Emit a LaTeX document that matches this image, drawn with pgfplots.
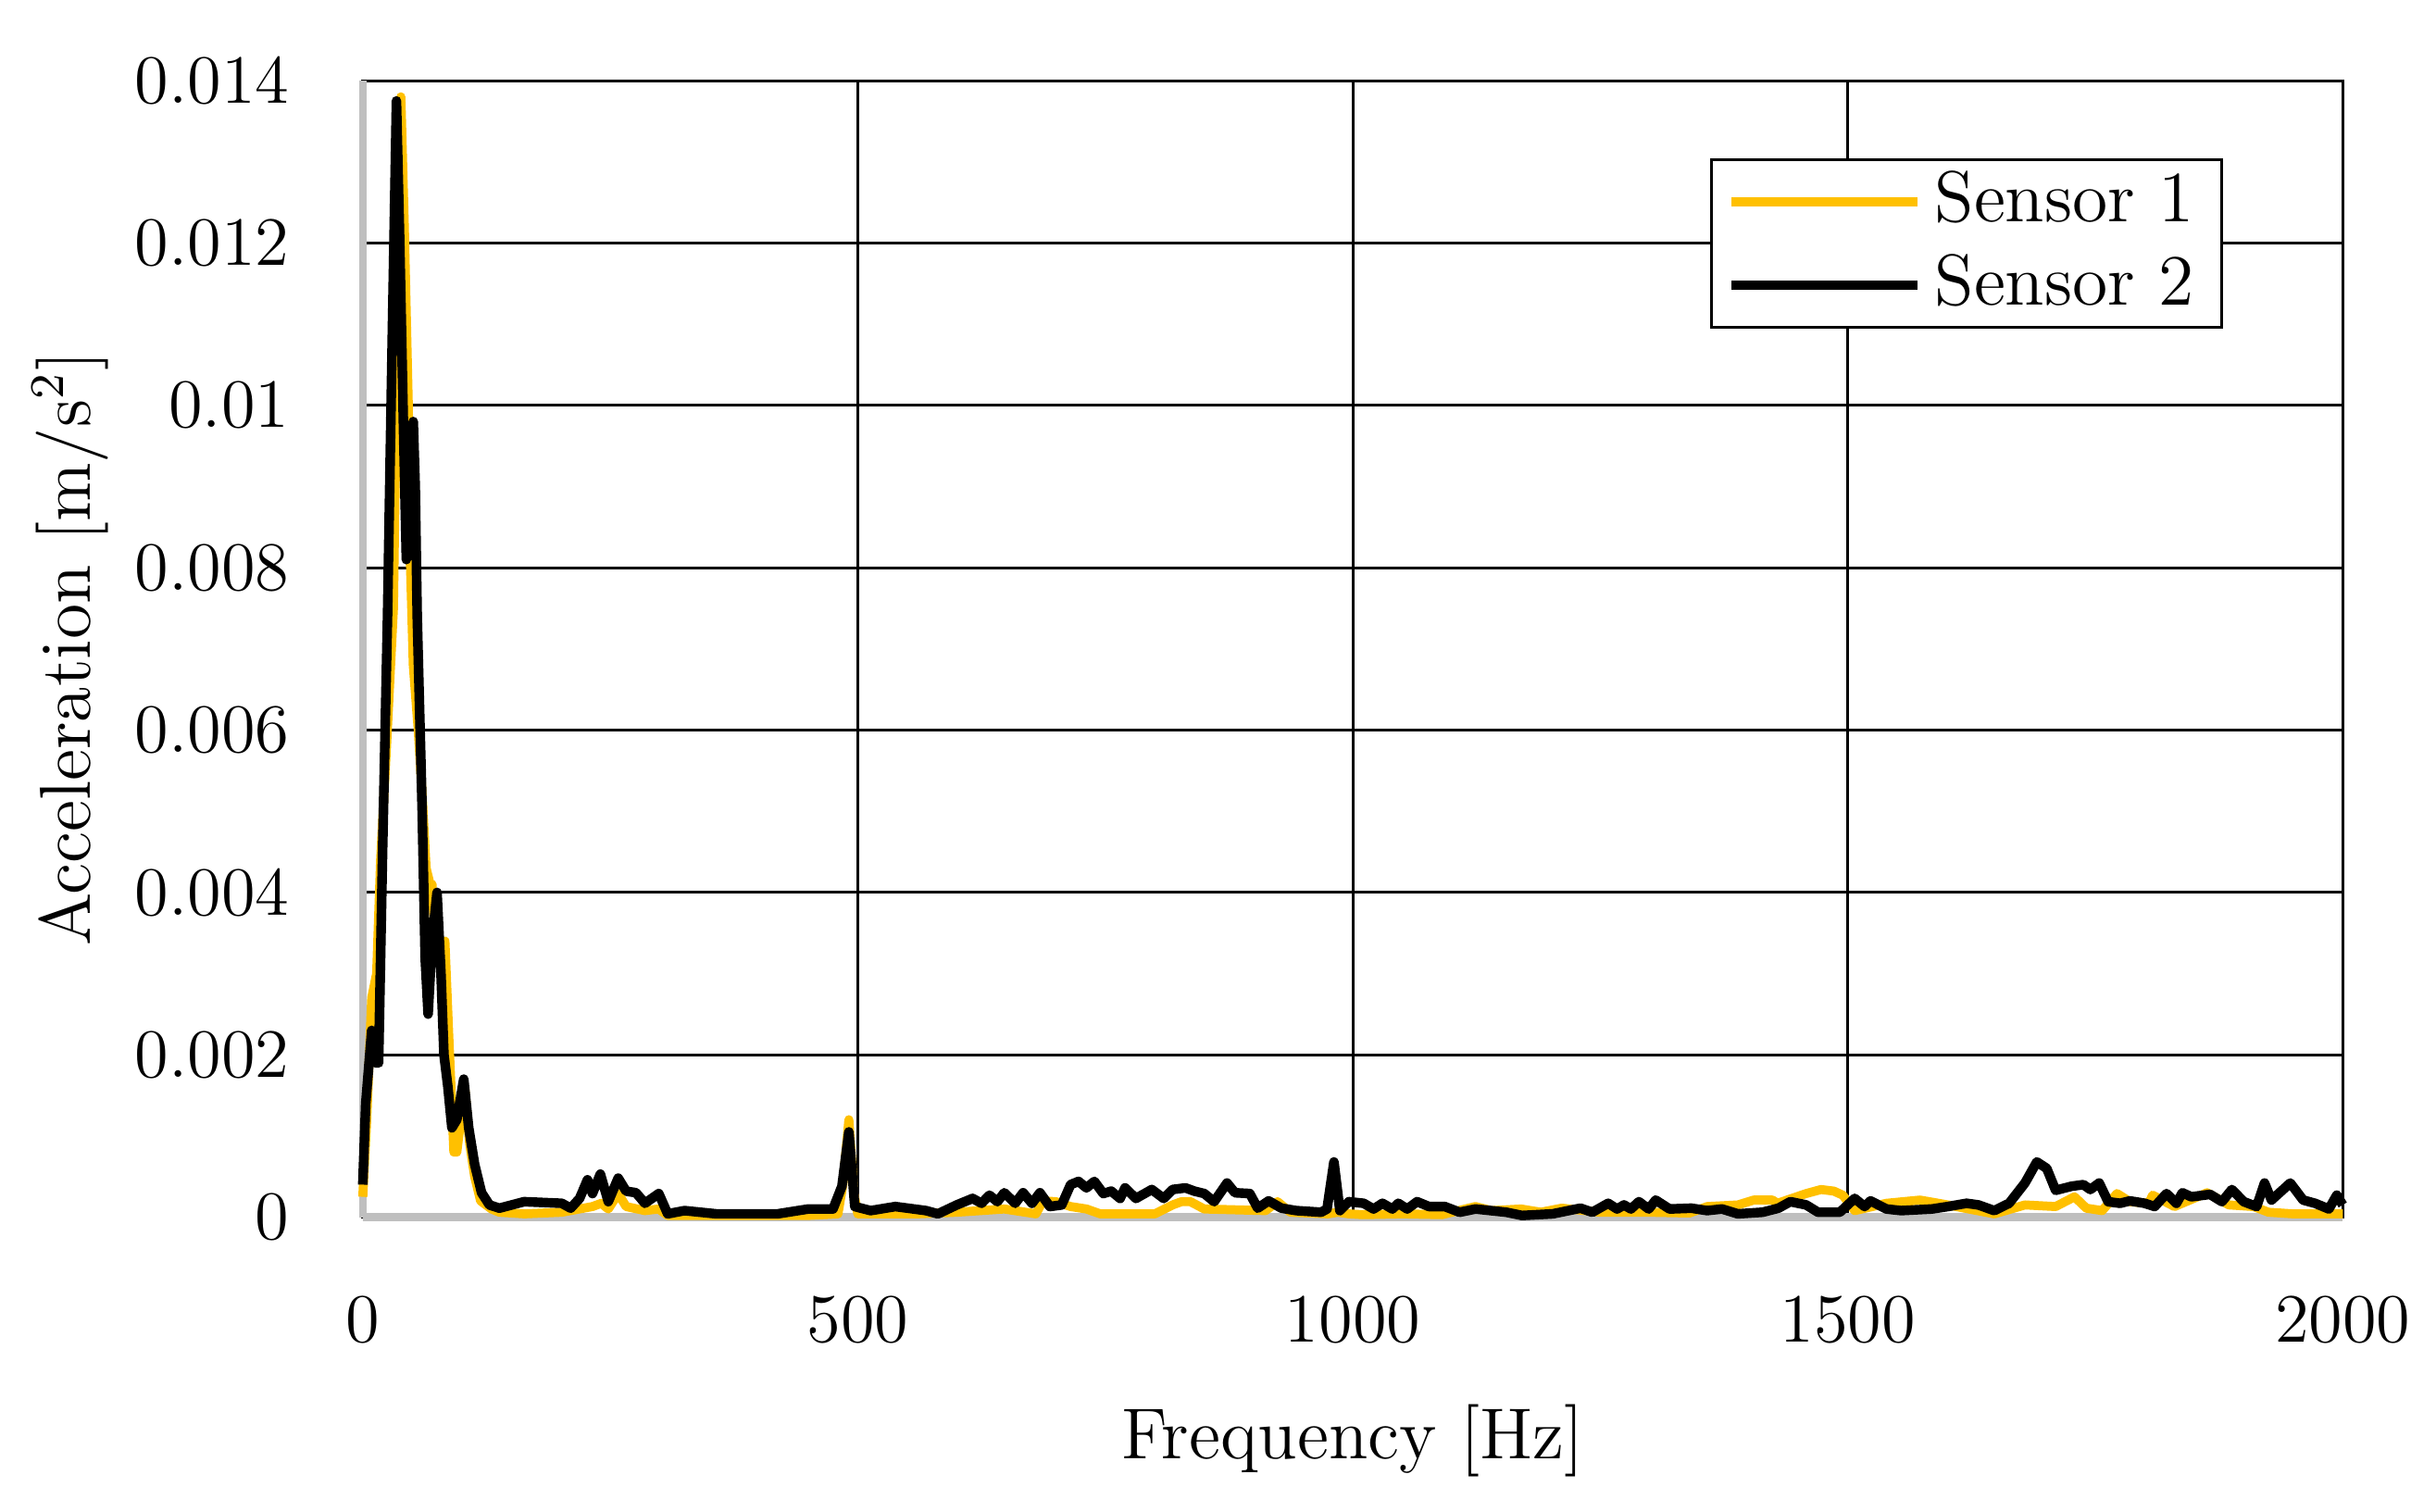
\documentclass[border=0pt]{standalone}
\usepackage{pgfplots}
\pgfplotsset{compat=1.18}
\definecolor{sgold}{HTML}{FFC000}
\definecolor{axgray}{HTML}{BFBFBF}
\begin{document}
\fontsize{12}{14}\selectfont
\begin{tikzpicture}
\begin{axis}[
  at={(0,0)}, anchor=south west,
  scale only axis, width=329.1pt, height=188.9pt,
  xmin=0, xmax=2000, ymin=0, ymax=0.014,
  xtick={0,500,1000,1500,2000},
  xticklabels={0,500,1000,1500,2000},
  ytick={0,0.002,0.004,0.006,0.008,0.01,0.012,0.014},
  yticklabels={0,0.002,0.004,0.006,0.008,0.01,0.012,0.014},
  scaled y ticks=false,
  grid=major,
  major grid style={black, line width=0.45pt},
  major tick length=0pt,
  axis line style={black, line width=0.45pt},
  clip=false,
  ticklabel style={font=\fontsize{11.5}{13}\selectfont},
  yticklabel style={xshift=-8pt},
  xticklabel style={yshift=-9pt},
  xlabel={Frequency [Hz]},
  ylabel={Acceleration [m/s$^2$]},
  xlabel style={at={(axis description cs:0.5,-0.1964)}, anchor=center, font=\fontsize{12}{14}\selectfont},
  ylabel style={at={(axis description cs:-0.1477,0.5)}, anchor=center, font=\fontsize{12}{14}\selectfont},
  legend cell align=left,
  legend image code/.code={\draw[#1] (0pt,0pt) -- (31pt,0pt);},
  legend style={at={(0.9395,0.932)}, anchor=north east, draw=black, line width=0.5pt,
    font=\fontsize{12}{14}\selectfont, inner xsep=2.5pt, inner ysep=0.6pt, row sep=1.0pt,
    nodes={inner xsep=2pt, inner ysep=1.3pt}},
]
\draw[axgray, line width=1.3pt] (rel axis cs:0,0) -- (rel axis cs:1,0);
\draw[axgray, line width=1.3pt] (rel axis cs:0,0) -- (rel axis cs:0,1);
\addplot[sgold, line width=1.5pt, line join=round] coordinates {
(0,0.00025) (4,0.0012) (9,0.0027) (14,0.0030) (18,0.0044) (24,0.0058) (31,0.0075)
(35,0.0110) (38.5,0.0138) (42,0.0122) (46,0.0100) (48,0.0081) (51,0.0068) (56,0.0060)
(60,0.0052) (64,0.0043) (68,0.0041) (70,0.0041) (73,0.0034) (78,0.0033) (83,0.0034)
(87,0.0022) (92,0.0008) (95,0.0008) (100,0.0013) (103,0.0016) (108,0.0009) (113,0.0005)
(119,0.0002) (130,0.0001) (138,0.00006) (163,0.00004) (201,0.00006) (232,0.00013)
(241,0.00017) (248,0.0001) (258,0.00029) (266,0.00013) (285,0.00008) (299,0.0001)
(308,0.00002) (360,0.00002) (450,0.00002) (480,0.00004) (485,0.0004) (491,0.0012)
(496,0.0003) (500,0.00004) (560,0.00004) (600,0.00006) (648,0.0001) (680,0.00004)
(687,0.0002) (700,0.00019) (715,0.00013) (731,0.0001) (745,0.00004) (800,0.00004)
(818,0.00015) (827,0.00019) (836,0.00019) (850,0.0001) (881,0.00009) (912,0.00008)
(924,0.00019) (937,0.00006) (975,0.00004) (985,0.00006) (996,0.00004) (1010,0.00003)
(1050,0.00004) (1090,0.00003) (1124,0.00013) (1140,0.00008) (1170,0.0001) (1190,0.00006)
(1211,0.00011) (1250,0.00006) (1300,0.00006) (1340,0.00005) (1358,0.00013) (1389,0.00015)
(1405,0.00021) (1424,0.00021) (1429,0.00017) (1458,0.00029) (1473,0.00034) (1486,0.00032)
(1495,0.00027) (1507,0.00008) (1539,0.00017) (1573,0.00021) (1601,0.00015) (1648,0.00004)
(1679,0.00015) (1710,0.00013) (1729,0.00025) (1741,0.00011) (1757,0.00008) (1772,0.00029)
(1785,0.00019) (1804,0.00017) (1808,0.00027) (1830,0.00013) (1863,0.00030) (1885,0.00015)
(1910,0.00013) (1925,0.00006) (1950,0.00004) (2000,0.00004)
};
\addlegendentry{Sensor 1}
\addplot[black, line width=1.6pt, line join=round] coordinates {
(0,0.0004) (3,0.0014) (9,0.0023) (13,0.0019) (16,0.0019) (20,0.0045) (25,0.0074)
(30,0.0110) (34,0.01375) (37,0.0122) (41,0.0098) (44,0.0081) (48,0.0088) (51,0.0098)
(53,0.0090) (55,0.0074) (60,0.0050) (63,0.0032) (66,0.0025) (70,0.0034) (75,0.0040)
(79,0.0030) (82,0.0020) (86,0.0016) (90,0.0011) (95,0.0012) (102,0.0017) (107,0.0011)
(113,0.00065) (120,0.0003) (128,0.00015) (138,0.00011) (163,0.00019) (201,0.00017)
(210,0.00011) (219,0.00023) (227,0.00046) (232,0.00029) (240,0.00053) (248,0.00019)
(258,0.00048) (266,0.00032) (276,0.0003) (285,0.00017) (299,0.00029) (308,0.00004)
(325,0.00008) (357,0.00004) (419,0.00004) (450,0.0001) (475,0.0001) (484,0.00038)
(491,0.00105) (497,0.00013) (513,0.00008) (538,0.00013) (569,0.00008) (581,0.00004)
(600,0.00015) (616,0.00023) (625,0.00017) (633,0.00027) (641,0.00019) (648,0.0003)
(659,0.00017) (667,0.0003) (676,0.00017) (684,0.0003) (694,0.00013) (706,0.00015)
(715,0.0004) (723,0.00044) (731,0.00036) (739,0.00044) (748,0.00029) (756,0.00032)
(765,0.00023) (770,0.00036) (781,0.00023) (797,0.00034) (809,0.00023) (818,0.00034)
(831,0.00036) (840,0.00032) (850,0.00029) (860,0.00019) (873,0.00042) (881,0.0003)
(896,0.00029) (904,0.00011) (915,0.0002) (928,0.00011) (943,0.00008) (968,0.00006)
(974,0.0001) (981,0.00068) (987,0.00008) (996,0.00019) (1011,0.00017) (1021,0.0001)
(1030,0.00017) (1040,0.0001) (1046,0.00017) (1055,0.0001) (1065,0.00019) (1077,0.00013)
(1093,0.00013) (1108,0.00006) (1124,0.0001) (1155,0.00006) (1171,0.00002) (1202,0.00004)
(1230,0.00011) (1242,0.00006) (1258,0.00017) (1267,0.0001) (1274,0.00015) (1281,0.0001)
(1289,0.00019) (1299,0.0001) (1306,0.00021) (1320,0.0001) (1342,0.00011) (1358,0.00008)
(1373,0.0001) (1389,0.00004) (1414,0.00006) (1430,0.00011) (1442,0.00019) (1458,0.00015)
(1470,0.00006) (1492,0.00006) (1507,0.00023) (1517,0.00013) (1523,0.0002) (1539,0.0001)
(1554,0.00008) (1585,0.0001) (1601,0.00013) (1620,0.00017) (1632,0.00015) (1648,0.00008)
(1663,0.00017) (1679,0.00042) (1691,0.00068) (1701,0.0006) (1710,0.00033) (1726,0.00038)
(1738,0.0004) (1745,0.00034) (1754,0.00042) (1763,0.00019) (1775,0.00017) (1785,0.0002)
(1800,0.00017) (1810,0.00013) (1822,0.00029) (1832,0.00017) (1838,0.0003) (1847,0.00025)
(1866,0.00028) (1878,0.00019) (1888,0.00034) (1900,0.00019) (1913,0.00013) (1921,0.00042)
(1928,0.00021) (1938,0.00032) (1947,0.00042) (1960,0.00021) (1972,0.00017) (1986,0.0001)
(1994,0.00027) (2000,0.00015)
};
\addlegendentry{Sensor 2}
\end{axis}
\pgfresetboundingbox
\useasboundingbox ([xshift=-60.3pt,yshift=-48.9pt]current axis.south west) rectangle ([xshift=15.5pt,yshift=13.4pt]current axis.north east);
\end{tikzpicture}
\end{document}
